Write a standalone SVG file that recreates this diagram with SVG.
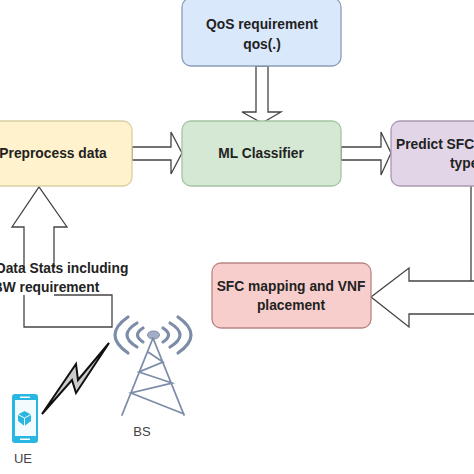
<svg xmlns="http://www.w3.org/2000/svg" width="474" height="474" viewBox="0 0 474 474">
<style>
.n{stroke-width:1.3}
.t{font-family:"Liberation Sans",Arial,sans-serif;font-weight:700;font-size:13.8px;fill:#222;text-anchor:middle}
.s{text-anchor:start}
.l{font-family:"Liberation Sans",Arial,sans-serif;font-size:13px;fill:#444;text-anchor:middle}
.a{fill:#fff;stroke:#444;stroke-width:1.3;stroke-linejoin:miter}
.o{fill:none;stroke:#444;stroke-width:1.3}
.w{fill:none;stroke:#7d8ca8;stroke-width:3.2;stroke-linecap:round}
.m{fill:none;stroke:#7d8ca8;stroke-width:1.8;stroke-linecap:round}
</style>
<rect width="474" height="474" fill="#fff"/>
<g id="connectors">
<polygon class="a" points="256,66 268,66 268,112 281,112 262,123 242,112 256,112"/>
<polygon class="a" points="132,147 171,147 171,132 182,153 171,174 171,160 132,160"/>
<polygon class="a" points="341,147 381,147 381,132 391,153 381,175 381,160 341,160"/>
<path class="a" d="M474,281H471V186M471,281H409V268L371,297L409,327V314H474"/>
<path class="o" d="M24,268V227H12L39,187L67,227H54V268"/>
<path class="o" d="M24,295V327H112V295H54"/>
</g>
<g id="qos">
<rect class="n" x="182" y="-2" width="159" height="68" rx="9" fill="#dae8fc" stroke="#8c9db8"/>
<text class="t" x="262" y="29">QoS requirement</text>
<text class="t" x="262" y="49">qos(.)</text>
</g>
<g id="preprocess">
<rect class="n" x="-10" y="121" width="142" height="65" rx="9" fill="#fff2cc" stroke="#d9cfa0"/>
<text class="t" x="53" y="158">Preprocess data</text>
</g>
<g id="ml">
<rect class="n" x="182" y="121" width="159" height="65" rx="9" fill="#d5e8d4" stroke="#a5c4a2"/>
<text class="t" x="261" y="158">ML Classifier</text>
</g>
<g id="predict">
<rect class="n" x="391" y="121" width="100" height="65" rx="9" fill="#e1d5e7" stroke="#a899b0"/>
<text class="t s" x="396" y="149">Predict SFC</text>
<text class="t s" x="450" y="168">type</text>
</g>
<g id="sfc">
<rect class="n" x="212" y="263" width="159" height="65" rx="9" fill="#f8cecc" stroke="#b98584"/>
<text class="t" x="291" y="291">SFC mapping and VNF</text>
<text class="t" x="291" y="310">placement</text>
</g>
<g id="data-stats">
<text class="t" x="62" y="273">Data Stats including</text>
<text class="t" x="46" y="292">BW requirement</text>
</g>
<g id="bs">
<ellipse cx="153.500" cy="335" rx="6" ry="4" fill="#a3aec4" stroke="#7d8ca8"/>
<path class="w" d="M128,317Q102,335 128,353M137,323Q117,335 137,347M143,328Q132,335 143,342M178,317Q204,335 178,353M170,323Q190,335 170,347M163,328Q174,335 163,342"/>
<path class="m" d="M153,338L122,415M153,338L184,415M148,352L163,362L139,372L172,383L131,393L184,414"/>
<text class="l" x="142" y="436">BS</text>
</g>
<g id="link">
<polygon points="42,414 76,364 78,380 109,343 76,393 72,380" fill="#ccc" stroke="#111" stroke-width="2" stroke-linejoin="miter"/>
</g>
<g id="ue">
<rect x="12" y="394" width="26" height="49" rx="3" fill="#29b6e0"/>
<rect x="15" y="400" width="21" height="36" fill="#f2fbfe"/>
<rect x="20" y="396.500" width="10" height="1.500" fill="#fff"/>
<rect x="20" y="438.500" width="10" height="1.500" fill="#fff"/>
<polygon points="24.500,411 31,414.500 31,421 24.500,426 18,421 18,414.500" fill="#29b6e0"/>
<path d="M18,414.500L24.500,418L31,414.500M24.500,418V426" fill="none" stroke="#f2fbfe" stroke-width="1"/>
<text class="l" x="23" y="463">UE</text>
</g>
</svg>
